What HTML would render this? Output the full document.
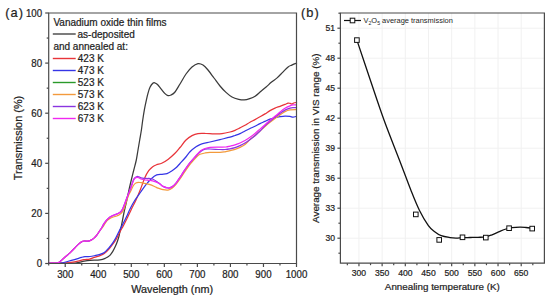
<!DOCTYPE html>
<html><head><meta charset="utf-8">
<style>
html,body{margin:0;padding:0;background:#fff;}
body{width:550px;height:300px;overflow:hidden;}
svg{display:block;font-family:"Liberation Sans",sans-serif;}
</style></head>
<body>
<svg width="550" height="300" viewBox="0 0 550 300">
<rect width="550" height="300" fill="#fff"/>
<g fill="none" stroke-width="1.25" stroke-linejoin="round" stroke-linecap="round">
<path stroke="#3a3a3a" d="M48.40 263.30 C50.33 263.28 55.57 263.25 60.00 263.20 C64.43 263.15 71.00 263.33 75.00 263.00 C79.00 262.67 81.50 261.63 84.00 261.20 C86.50 260.77 87.33 260.62 90.00 260.40 C92.67 260.18 97.45 260.25 100.00 259.90 C102.55 259.55 103.70 259.02 105.30 258.30 C106.90 257.58 108.35 256.77 109.60 255.60 C110.85 254.43 111.82 252.90 112.80 251.30 C113.78 249.70 114.70 247.77 115.50 246.00 C116.30 244.23 116.98 242.48 117.60 240.70 C118.22 238.92 118.75 237.08 119.20 235.30 C119.65 233.52 119.92 231.67 120.30 230.00 C120.68 228.33 120.88 228.22 121.50 225.30 C122.12 222.38 123.17 216.47 124.00 212.50 C124.83 208.53 125.63 205.42 126.50 201.50 C127.37 197.58 128.40 192.58 129.20 189.00 C130.00 185.42 130.53 183.17 131.30 180.00 C132.07 176.83 132.97 173.33 133.80 170.00 C134.63 166.67 135.60 163.33 136.30 160.00 C137.00 156.67 137.43 153.33 138.00 150.00 C138.57 146.67 139.13 143.33 139.70 140.00 C140.27 136.67 140.92 133.17 141.40 130.00 C141.88 126.83 142.10 124.38 142.60 121.00 C143.10 117.62 143.78 113.13 144.40 109.70 C145.02 106.27 145.68 103.20 146.30 100.40 C146.92 97.60 147.48 95.08 148.10 92.90 C148.72 90.72 149.22 88.90 150.00 87.30 C150.78 85.70 152.02 84.05 152.80 83.30 C153.58 82.55 153.92 82.60 154.70 82.80 C155.48 83.00 156.45 83.50 157.50 84.50 C158.55 85.50 159.75 87.28 161.00 88.80 C162.25 90.32 163.83 92.47 165.00 93.60 C166.17 94.73 167.00 95.37 168.00 95.60 C169.00 95.83 169.83 95.60 171.00 95.00 C172.17 94.40 173.50 93.83 175.00 92.00 C176.50 90.17 178.17 87.00 180.00 84.00 C181.83 81.00 184.00 76.83 186.00 74.00 C188.00 71.17 190.00 68.73 192.00 67.00 C194.00 65.27 196.17 63.93 198.00 63.60 C199.83 63.27 201.33 63.93 203.00 65.00 C204.67 66.07 206.17 67.83 208.00 70.00 C209.83 72.17 212.00 75.33 214.00 78.00 C216.00 80.67 218.00 83.60 220.00 86.00 C222.00 88.40 224.00 90.57 226.00 92.40 C228.00 94.23 229.88 95.85 232.00 97.00 C234.12 98.15 236.67 98.82 238.70 99.30 C240.73 99.78 242.37 100.02 244.20 99.90 C246.03 99.78 247.88 99.22 249.70 98.60 C251.52 97.98 253.28 97.37 255.10 96.20 C256.92 95.03 258.77 93.13 260.60 91.60 C262.43 90.07 264.27 88.58 266.10 87.00 C267.93 85.42 269.77 83.62 271.60 82.10 C273.43 80.58 275.27 79.52 277.10 77.90 C278.93 76.28 280.77 74.23 282.60 72.40 C284.43 70.57 286.57 68.12 288.10 66.90 C289.63 65.68 290.73 65.62 291.80 65.10 C292.87 64.58 293.72 64.12 294.50 63.80 C295.28 63.48 296.17 63.30 296.50 63.20"/>
<path stroke="#e8343a" d="M48.40 263.30 C51.00 263.27 60.23 263.25 64.00 263.10 C67.77 262.95 68.67 262.72 71.00 262.40 C73.33 262.08 75.87 261.65 78.00 261.20 C80.13 260.75 81.87 260.05 83.80 259.70 C85.73 259.35 87.85 259.50 89.60 259.10 C91.35 258.70 92.57 257.88 94.30 257.30 C96.03 256.72 98.33 256.22 100.00 255.60 C101.67 254.98 102.88 254.60 104.30 253.60 C105.72 252.60 107.08 251.17 108.50 249.60 C109.92 248.03 111.47 246.03 112.80 244.20 C114.13 242.37 115.25 240.77 116.50 238.60 C117.75 236.43 119.13 233.38 120.30 231.20 C121.47 229.02 122.30 227.78 123.50 225.50 C124.70 223.22 126.17 220.25 127.50 217.50 C128.83 214.75 130.08 211.92 131.50 209.00 C132.92 206.08 134.47 203.38 136.00 200.00 C137.53 196.62 139.25 192.37 140.70 188.70 C142.15 185.03 143.37 181.00 144.70 178.00 C146.03 175.00 147.37 172.58 148.70 170.70 C150.03 168.82 151.37 167.70 152.70 166.70 C154.03 165.70 155.20 165.27 156.70 164.70 C158.20 164.13 159.77 164.22 161.70 163.30 C163.63 162.38 166.08 160.87 168.30 159.20 C170.52 157.53 173.05 155.25 175.00 153.30 C176.95 151.35 178.17 149.72 180.00 147.50 C181.83 145.28 184.00 141.98 186.00 140.00 C188.00 138.02 190.00 136.67 192.00 135.60 C194.00 134.53 195.67 133.95 198.00 133.60 C200.33 133.25 203.33 133.45 206.00 133.50 C208.67 133.55 211.33 133.87 214.00 133.90 C216.67 133.93 219.33 134.02 222.00 133.70 C224.67 133.38 227.83 132.57 230.00 132.00 C232.17 131.43 233.33 130.98 235.00 130.30 C236.67 129.62 238.33 128.73 240.00 127.90 C241.67 127.07 243.33 126.25 245.00 125.30 C246.67 124.35 248.33 123.15 250.00 122.20 C251.67 121.25 253.33 120.50 255.00 119.60 C256.67 118.70 258.33 117.75 260.00 116.80 C261.67 115.85 263.33 114.93 265.00 113.90 C266.67 112.87 268.33 111.57 270.00 110.60 C271.67 109.63 273.33 108.82 275.00 108.10 C276.67 107.38 278.33 106.92 280.00 106.30 C281.67 105.68 283.67 104.93 285.00 104.40 C286.33 103.87 287.17 103.27 288.00 103.10 C288.83 102.93 289.33 103.25 290.00 103.40 C290.67 103.55 291.38 104.07 292.00 104.00 C292.62 103.93 292.95 103.27 293.70 103.00 C294.45 102.73 296.03 102.50 296.50 102.40"/>
<path stroke="#3535e6" d="M48.40 263.30 C50.42 263.25 57.32 263.30 60.50 263.00 C63.68 262.70 65.17 262.05 67.50 261.50 C69.83 260.95 72.17 260.38 74.50 259.70 C76.83 259.02 79.75 257.92 81.50 257.40 C83.25 256.88 83.58 256.75 85.00 256.60 C86.42 256.45 88.33 256.67 90.00 256.50 C91.67 256.33 93.33 255.95 95.00 255.60 C96.67 255.25 98.45 254.92 100.00 254.40 C101.55 253.88 102.88 253.52 104.30 252.50 C105.72 251.48 107.08 249.92 108.50 248.30 C109.92 246.68 111.55 244.60 112.80 242.80 C114.05 241.00 114.85 239.63 116.00 237.50 C117.15 235.37 118.62 232.12 119.70 230.00 C120.78 227.88 121.37 227.00 122.50 224.80 C123.63 222.60 125.25 219.43 126.50 216.80 C127.75 214.17 128.63 211.72 130.00 209.00 C131.37 206.28 132.92 203.33 134.70 200.50 C136.48 197.67 138.82 194.63 140.70 192.00 C142.58 189.37 144.23 186.92 146.00 184.70 C147.77 182.48 149.52 180.33 151.30 178.70 C153.08 177.07 154.92 175.63 156.70 174.90 C158.48 174.17 160.28 174.52 162.00 174.30 C163.72 174.08 165.38 174.15 167.00 173.60 C168.62 173.05 170.20 171.97 171.70 171.00 C173.20 170.03 174.62 169.05 176.00 167.80 C177.38 166.55 178.50 165.13 180.00 163.50 C181.50 161.87 183.33 159.97 185.00 158.00 C186.67 156.03 188.33 153.43 190.00 151.70 C191.67 149.97 193.33 148.78 195.00 147.60 C196.67 146.42 197.50 145.53 200.00 144.60 C202.50 143.67 206.67 142.83 210.00 142.00 C213.33 141.17 216.67 140.40 220.00 139.60 C223.33 138.80 227.50 137.88 230.00 137.20 C232.50 136.52 233.33 136.10 235.00 135.50 C236.67 134.90 238.33 134.35 240.00 133.60 C241.67 132.85 243.33 131.85 245.00 131.00 C246.67 130.15 248.33 129.30 250.00 128.50 C251.67 127.70 253.33 127.02 255.00 126.20 C256.67 125.38 258.33 124.40 260.00 123.60 C261.67 122.80 263.33 122.15 265.00 121.40 C266.67 120.65 268.33 119.72 270.00 119.10 C271.67 118.48 273.33 118.10 275.00 117.70 C276.67 117.30 278.33 116.97 280.00 116.70 C281.67 116.43 283.33 116.15 285.00 116.10 C286.67 116.05 288.67 116.22 290.00 116.40 C291.33 116.58 291.92 117.22 293.00 117.20 C294.08 117.18 295.92 116.45 296.50 116.30"/>
<path stroke="#f39a3c" d="M48.40 263.20 C49.67 263.18 54.35 263.20 56.00 263.10 C57.65 263.00 57.60 262.88 58.30 262.60 C59.00 262.32 59.55 261.90 60.20 261.40 C60.85 260.90 61.27 260.42 62.20 259.60 C63.13 258.78 64.60 257.53 65.80 256.50 C67.00 255.47 68.37 254.35 69.40 253.40 C70.43 252.45 71.15 251.67 72.00 250.80 C72.85 249.93 73.50 249.23 74.50 248.20 C75.50 247.17 76.83 245.65 78.00 244.60 C79.17 243.55 80.50 242.50 81.50 241.90 C82.50 241.30 82.92 241.13 84.00 241.00 C85.08 240.87 86.83 241.25 88.00 241.10 C89.17 240.95 90.00 240.60 91.00 240.10 C92.00 239.60 93.00 238.98 94.00 238.10 C95.00 237.22 96.00 236.08 97.00 234.80 C98.00 233.52 99.08 231.63 100.00 230.40 C100.92 229.17 101.72 228.47 102.50 227.40 C103.28 226.33 103.90 225.17 104.70 224.00 C105.50 222.83 106.42 221.33 107.30 220.40 C108.18 219.47 109.00 218.97 110.00 218.40 C111.00 217.83 112.18 217.40 113.30 217.00 C114.42 216.60 115.70 216.38 116.70 216.00 C117.70 215.62 118.42 215.32 119.30 214.70 C120.18 214.08 121.22 213.30 122.00 212.30 C122.78 211.30 123.28 210.45 124.00 208.70 C124.72 206.95 125.55 204.00 126.30 201.80 C127.05 199.60 127.80 197.22 128.50 195.50 C129.20 193.78 129.75 193.05 130.50 191.50 C131.25 189.95 132.25 187.52 133.00 186.20 C133.75 184.88 134.33 184.20 135.00 183.60 C135.67 183.00 136.17 182.78 137.00 182.60 C137.83 182.42 139.17 182.45 140.00 182.50 C140.83 182.55 141.17 182.75 142.00 182.90 C142.83 183.05 143.67 183.12 145.00 183.40 C146.33 183.68 148.33 184.05 150.00 184.60 C151.67 185.15 153.67 186.12 155.00 186.70 C156.33 187.28 156.67 187.60 158.00 188.10 C159.33 188.60 161.33 189.37 163.00 189.70 C164.67 190.03 166.50 190.33 168.00 190.10 C169.50 189.87 170.67 189.27 172.00 188.30 C173.33 187.33 174.67 185.85 176.00 184.30 C177.33 182.75 178.50 181.15 180.00 179.00 C181.50 176.85 183.33 173.83 185.00 171.40 C186.67 168.97 188.67 166.15 190.00 164.40 C191.33 162.65 191.83 162.22 193.00 160.90 C194.17 159.58 195.83 157.60 197.00 156.50 C198.17 155.40 198.67 154.88 200.00 154.30 C201.33 153.72 203.33 153.32 205.00 153.00 C206.67 152.68 207.50 152.50 210.00 152.40 C212.50 152.30 217.50 152.50 220.00 152.40 C222.50 152.30 223.33 152.08 225.00 151.80 C226.67 151.52 228.33 151.10 230.00 150.70 C231.67 150.30 233.33 149.95 235.00 149.40 C236.67 148.85 238.33 148.22 240.00 147.40 C241.67 146.58 243.33 145.82 245.00 144.50 C246.67 143.18 248.33 141.00 250.00 139.50 C251.67 138.00 253.33 136.92 255.00 135.50 C256.67 134.08 258.33 132.50 260.00 131.00 C261.67 129.50 263.33 127.95 265.00 126.50 C266.67 125.05 268.33 123.63 270.00 122.30 C271.67 120.97 273.33 119.72 275.00 118.50 C276.67 117.28 278.33 116.15 280.00 115.00 C281.67 113.85 283.33 112.45 285.00 111.60 C286.67 110.75 288.08 110.23 290.00 109.90 C291.92 109.57 295.42 109.65 296.50 109.60"/>
<path stroke="#8a35e0" d="M48.40 263.20 C49.67 263.18 54.35 263.20 56.00 263.10 C57.65 263.00 57.60 262.88 58.30 262.60 C59.00 262.32 59.55 261.90 60.20 261.40 C60.85 260.90 61.27 260.42 62.20 259.60 C63.13 258.78 64.60 257.53 65.80 256.50 C67.00 255.47 68.37 254.35 69.40 253.40 C70.43 252.45 71.15 251.67 72.00 250.80 C72.85 249.93 73.50 249.23 74.50 248.20 C75.50 247.17 76.83 245.65 78.00 244.60 C79.17 243.55 80.50 242.50 81.50 241.90 C82.50 241.30 82.92 241.13 84.00 241.00 C85.08 240.87 86.83 241.25 88.00 241.10 C89.17 240.95 90.00 240.60 91.00 240.10 C92.00 239.60 93.00 238.98 94.00 238.10 C95.00 237.22 96.00 236.08 97.00 234.80 C98.00 233.52 99.17 231.67 100.00 230.40 C100.83 229.13 101.33 228.33 102.00 227.20 C102.67 226.07 103.28 224.72 104.00 223.60 C104.72 222.48 105.30 221.60 106.30 220.50 C107.30 219.40 108.72 217.92 110.00 217.00 C111.28 216.08 112.67 215.58 114.00 215.00 C115.33 214.42 116.83 214.08 118.00 213.50 C119.17 212.92 120.17 212.42 121.00 211.50 C121.83 210.58 122.33 209.42 123.00 208.00 C123.67 206.58 124.33 204.75 125.00 203.00 C125.67 201.25 126.33 199.28 127.00 197.50 C127.67 195.72 128.25 194.30 129.00 192.30 C129.75 190.30 130.75 187.58 131.50 185.50 C132.25 183.42 132.92 181.12 133.50 179.80 C134.08 178.48 134.42 178.15 135.00 177.60 C135.58 177.05 136.33 176.62 137.00 176.50 C137.67 176.38 138.33 176.68 139.00 176.90 C139.67 177.12 140.17 177.55 141.00 177.80 C141.83 178.05 143.00 178.28 144.00 178.40 C145.00 178.52 146.00 178.48 147.00 178.50 C148.00 178.52 149.00 178.37 150.00 178.50 C151.00 178.63 151.83 178.77 153.00 179.30 C154.17 179.83 155.83 180.92 157.00 181.70 C158.17 182.48 159.00 183.22 160.00 184.00 C161.00 184.78 161.67 185.73 163.00 186.40 C164.33 187.07 166.50 187.92 168.00 188.00 C169.50 188.08 170.67 187.72 172.00 186.90 C173.33 186.08 174.67 184.70 176.00 183.10 C177.33 181.50 178.50 179.53 180.00 177.30 C181.50 175.07 183.33 172.13 185.00 169.70 C186.67 167.27 188.67 164.42 190.00 162.70 C191.33 160.98 191.83 160.68 193.00 159.40 C194.17 158.12 195.67 156.37 197.00 155.00 C198.33 153.63 199.67 152.17 201.00 151.20 C202.33 150.23 203.50 149.57 205.00 149.20 C206.50 148.83 207.50 148.95 210.00 149.00 C212.50 149.05 217.50 149.42 220.00 149.50 C222.50 149.58 223.33 149.60 225.00 149.50 C226.67 149.40 228.33 149.20 230.00 148.90 C231.67 148.60 233.33 148.25 235.00 147.70 C236.67 147.15 238.33 146.38 240.00 145.60 C241.67 144.82 243.33 144.00 245.00 143.00 C246.67 142.00 248.33 140.80 250.00 139.60 C251.67 138.40 253.33 137.23 255.00 135.80 C256.67 134.37 258.33 132.65 260.00 131.00 C261.67 129.35 263.33 127.52 265.00 125.90 C266.67 124.28 268.33 122.78 270.00 121.30 C271.67 119.82 273.33 118.32 275.00 117.00 C276.67 115.68 278.33 114.55 280.00 113.40 C281.67 112.25 283.33 110.97 285.00 110.10 C286.67 109.23 288.67 108.60 290.00 108.20 C291.33 107.80 291.92 107.78 293.00 107.70 C294.08 107.62 295.92 107.70 296.50 107.70"/>
<path stroke="#f028f0" d="M48.40 263.20 C49.67 263.18 54.35 263.20 56.00 263.10 C57.65 263.00 57.60 262.88 58.30 262.60 C59.00 262.32 59.55 261.90 60.20 261.40 C60.85 260.90 61.27 260.42 62.20 259.60 C63.13 258.78 64.60 257.53 65.80 256.50 C67.00 255.47 68.37 254.35 69.40 253.40 C70.43 252.45 71.15 251.67 72.00 250.80 C72.85 249.93 73.50 249.23 74.50 248.20 C75.50 247.17 76.83 245.65 78.00 244.60 C79.17 243.55 80.50 242.50 81.50 241.90 C82.50 241.30 82.92 241.13 84.00 241.00 C85.08 240.87 86.83 241.25 88.00 241.10 C89.17 240.95 90.00 240.60 91.00 240.10 C92.00 239.60 93.00 238.98 94.00 238.10 C95.00 237.22 96.00 236.08 97.00 234.80 C98.00 233.52 99.17 231.67 100.00 230.40 C100.83 229.13 101.33 228.33 102.00 227.20 C102.67 226.07 103.28 224.72 104.00 223.60 C104.72 222.48 105.30 221.60 106.30 220.50 C107.30 219.40 108.72 217.92 110.00 217.00 C111.28 216.08 112.67 215.58 114.00 215.00 C115.33 214.42 116.83 214.08 118.00 213.50 C119.17 212.92 120.17 212.42 121.00 211.50 C121.83 210.58 122.33 209.42 123.00 208.00 C123.67 206.58 124.33 204.75 125.00 203.00 C125.67 201.25 126.33 199.25 127.00 197.50 C127.67 195.75 128.25 194.42 129.00 192.50 C129.75 190.58 130.75 188.00 131.50 186.00 C132.25 184.00 132.92 181.78 133.50 180.50 C134.08 179.22 134.42 178.83 135.00 178.30 C135.58 177.77 136.33 177.38 137.00 177.30 C137.67 177.22 138.33 177.52 139.00 177.80 C139.67 178.08 140.00 178.63 141.00 179.00 C142.00 179.37 143.50 179.77 145.00 180.00 C146.50 180.23 148.33 180.12 150.00 180.40 C151.67 180.68 153.33 181.10 155.00 181.70 C156.67 182.30 158.67 183.22 160.00 184.00 C161.33 184.78 161.67 185.73 163.00 186.40 C164.33 187.07 166.50 187.92 168.00 188.00 C169.50 188.08 170.67 187.72 172.00 186.90 C173.33 186.08 174.67 184.70 176.00 183.10 C177.33 181.50 178.50 179.53 180.00 177.30 C181.50 175.07 183.33 172.13 185.00 169.70 C186.67 167.27 188.67 164.45 190.00 162.70 C191.33 160.95 191.83 160.57 193.00 159.20 C194.17 157.83 195.67 155.95 197.00 154.50 C198.33 153.05 199.67 151.50 201.00 150.50 C202.33 149.50 203.50 149.02 205.00 148.50 C206.50 147.98 207.50 147.62 210.00 147.40 C212.50 147.18 217.33 147.27 220.00 147.20 C222.67 147.13 224.33 147.18 226.00 147.00 C227.67 146.82 228.50 146.47 230.00 146.10 C231.50 145.73 233.33 145.32 235.00 144.80 C236.67 144.28 238.33 143.72 240.00 143.00 C241.67 142.28 243.33 141.45 245.00 140.50 C246.67 139.55 248.33 138.47 250.00 137.30 C251.67 136.13 253.33 134.87 255.00 133.50 C256.67 132.13 258.33 130.57 260.00 129.10 C261.67 127.63 263.33 126.18 265.00 124.70 C266.67 123.22 268.17 121.72 270.00 120.20 C271.83 118.68 274.33 116.97 276.00 115.60 C277.67 114.23 278.50 113.23 280.00 112.00 C281.50 110.77 283.33 109.23 285.00 108.20 C286.67 107.17 288.67 106.35 290.00 105.80 C291.33 105.25 291.92 105.07 293.00 104.90 C294.08 104.73 295.92 104.82 296.50 104.80"/>
</g>
<g stroke="#4a4a4a" stroke-width="1.20" fill="none">
<path d="M48.70 13.00 H296.50 V263.50 H48.70 Z"/>
<path d="M45.20 263.50 H48.70"/>
<path d="M46.70 238.45 H48.70"/>
<path d="M45.20 213.40 H48.70"/>
<path d="M46.70 188.35 H48.70"/>
<path d="M45.20 163.30 H48.70"/>
<path d="M46.70 138.25 H48.70"/>
<path d="M45.20 113.20 H48.70"/>
<path d="M46.70 88.15 H48.70"/>
<path d="M45.20 63.10 H48.70"/>
<path d="M46.70 38.05 H48.70"/>
<path d="M45.20 13.00 H48.70"/>
<path d="M48.70 263.50 V265.50"/>
<path d="M65.22 263.50 V267.00"/>
<path d="M81.74 263.50 V265.50"/>
<path d="M98.26 263.50 V267.00"/>
<path d="M114.78 263.50 V265.50"/>
<path d="M131.30 263.50 V267.00"/>
<path d="M147.82 263.50 V265.50"/>
<path d="M164.34 263.50 V267.00"/>
<path d="M180.86 263.50 V265.50"/>
<path d="M197.38 263.50 V267.00"/>
<path d="M213.90 263.50 V265.50"/>
<path d="M230.42 263.50 V267.00"/>
<path d="M246.94 263.50 V265.50"/>
<path d="M263.46 263.50 V267.00"/>
<path d="M279.98 263.50 V265.50"/>
<path d="M296.50 263.50 V267.00"/>
</g>
<text transform="translate(42.10 267.00) scale(0.970 1)" font-size="10.00" text-anchor="end" fill="#1e1e1e" stroke="#1e1e1e" stroke-width="0.22">0</text>
<text transform="translate(42.10 216.90) scale(0.970 1)" font-size="10.00" text-anchor="end" fill="#1e1e1e" stroke="#1e1e1e" stroke-width="0.22">20</text>
<text transform="translate(42.10 166.80) scale(0.970 1)" font-size="10.00" text-anchor="end" fill="#1e1e1e" stroke="#1e1e1e" stroke-width="0.22">40</text>
<text transform="translate(42.10 116.70) scale(0.970 1)" font-size="10.00" text-anchor="end" fill="#1e1e1e" stroke="#1e1e1e" stroke-width="0.22">60</text>
<text transform="translate(42.10 66.60) scale(0.970 1)" font-size="10.00" text-anchor="end" fill="#1e1e1e" stroke="#1e1e1e" stroke-width="0.22">80</text>
<text transform="translate(42.10 16.50) scale(0.970 1)" font-size="10.00" text-anchor="end" fill="#1e1e1e" stroke="#1e1e1e" stroke-width="0.22">100</text>
<text transform="translate(65.22 277.80) scale(0.970 1)" font-size="10.00" text-anchor="middle" fill="#1e1e1e" stroke="#1e1e1e" stroke-width="0.22">300</text>
<text transform="translate(98.26 277.80) scale(0.970 1)" font-size="10.00" text-anchor="middle" fill="#1e1e1e" stroke="#1e1e1e" stroke-width="0.22">400</text>
<text transform="translate(131.30 277.80) scale(0.970 1)" font-size="10.00" text-anchor="middle" fill="#1e1e1e" stroke="#1e1e1e" stroke-width="0.22">500</text>
<text transform="translate(164.34 277.80) scale(0.970 1)" font-size="10.00" text-anchor="middle" fill="#1e1e1e" stroke="#1e1e1e" stroke-width="0.22">600</text>
<text transform="translate(197.38 277.80) scale(0.970 1)" font-size="10.00" text-anchor="middle" fill="#1e1e1e" stroke="#1e1e1e" stroke-width="0.22">700</text>
<text transform="translate(230.42 277.80) scale(0.970 1)" font-size="10.00" text-anchor="middle" fill="#1e1e1e" stroke="#1e1e1e" stroke-width="0.22">800</text>
<text transform="translate(263.46 277.80) scale(0.970 1)" font-size="10.00" text-anchor="middle" fill="#1e1e1e" stroke="#1e1e1e" stroke-width="0.22">900</text>
<text transform="translate(296.50 277.80) scale(0.970 1)" font-size="10.00" text-anchor="middle" fill="#1e1e1e" stroke="#1e1e1e" stroke-width="0.22">1000</text>
<text transform="translate(172.10 292.70) scale(1.050 1)" font-size="10.30" text-anchor="middle" fill="#1e1e1e" stroke="#1e1e1e" stroke-width="0.22">Wavelength (nm)</text>
<text transform="translate(22.00 138.00) rotate(-90) scale(1.050 1)" font-size="10.40" text-anchor="middle" fill="#1e1e1e" stroke="#1e1e1e" stroke-width="0.22">Transmission (%)</text>
<text transform="translate(5.20 16.50) scale(1.000 1)" font-size="12.80" text-anchor="start" fill="#1e1e1e" stroke="#1e1e1e" stroke-width="0.22" letter-spacing="1.1">(a)</text>
<text transform="translate(53.40 25.90) scale(1.000 1)" font-size="10.00" text-anchor="start" fill="#1e1e1e" stroke="#1e1e1e" stroke-width="0.22">Vanadium oxide thin films</text>
<text transform="translate(77.50 37.80) scale(1.000 1)" font-size="10.00" text-anchor="start" fill="#1e1e1e" stroke="#1e1e1e" stroke-width="0.22">as-deposited</text>
<text transform="translate(53.40 49.80) scale(1.000 1)" font-size="10.00" text-anchor="start" fill="#1e1e1e" stroke="#1e1e1e" stroke-width="0.22">and annealed at:</text>
<text transform="translate(77.80 61.90) scale(1.000 1)" font-size="10.00" text-anchor="start" fill="#1e1e1e" stroke="#1e1e1e" stroke-width="0.22">423 K</text>
<text transform="translate(77.80 73.90) scale(1.000 1)" font-size="10.00" text-anchor="start" fill="#1e1e1e" stroke="#1e1e1e" stroke-width="0.22">473 K</text>
<text transform="translate(77.80 85.90) scale(1.000 1)" font-size="10.00" text-anchor="start" fill="#1e1e1e" stroke="#1e1e1e" stroke-width="0.22">523 K</text>
<text transform="translate(77.80 97.90) scale(1.000 1)" font-size="10.00" text-anchor="start" fill="#1e1e1e" stroke="#1e1e1e" stroke-width="0.22">573 K</text>
<text transform="translate(77.80 109.90) scale(1.000 1)" font-size="10.00" text-anchor="start" fill="#1e1e1e" stroke="#1e1e1e" stroke-width="0.22">623 K</text>
<text transform="translate(77.80 121.90) scale(1.000 1)" font-size="10.00" text-anchor="start" fill="#1e1e1e" stroke="#1e1e1e" stroke-width="0.22">673 K</text>
<g stroke-width="1.4">
<path stroke="#444444" d="M52.8 34.00 H75.7"/>
<path stroke="#e8343a" d="M52.8 58.50 H75.7"/>
<path stroke="#3535e6" d="M52.8 70.50 H75.7"/>
<path stroke="#2a9a2a" d="M52.8 82.50 H75.7"/>
<path stroke="#f39a3c" d="M52.8 94.50 H75.7"/>
<path stroke="#8a35e0" d="M52.8 106.50 H75.7"/>
<path stroke="#f028f0" d="M52.8 118.50 H75.7"/>
</g>
<g stroke="#f1f1f1" stroke-width="1">
<path d="M358.95 13.00 V263.20"/>
<path d="M382.13 13.00 V263.20"/>
<path d="M405.31 13.00 V263.20"/>
<path d="M428.49 13.00 V263.20"/>
<path d="M451.67 13.00 V263.20"/>
<path d="M474.85 13.00 V263.20"/>
<path d="M498.04 13.00 V263.20"/>
<path d="M521.22 13.00 V263.20"/>
<path d="M340.40 238.20 H544.40"/>
<path d="M340.40 208.20 H544.40"/>
<path d="M340.40 178.20 H544.40"/>
<path d="M340.40 148.20 H544.40"/>
<path d="M340.40 118.20 H544.40"/>
<path d="M340.40 88.20 H544.40"/>
<path d="M340.40 58.20 H544.40"/>
<path d="M340.40 28.20 H544.40"/>
</g>
<path fill="none" stroke="#111" stroke-width="1.3" d="M356.90 40.10 C359.13 46.75 365.78 66.68 370.30 80.00 C374.82 93.32 379.15 106.67 384.00 120.00 C388.85 133.33 394.87 148.17 399.40 160.00 C403.93 171.83 407.85 182.58 411.20 191.00 C414.55 199.42 416.67 204.78 419.50 210.50 C422.33 216.22 425.67 221.75 428.20 225.30 C430.73 228.85 432.53 230.07 434.70 231.80 C436.87 233.53 438.65 234.73 441.20 235.70 C443.75 236.67 447.53 237.20 450.00 237.60 C452.47 238.00 453.90 238.08 456.00 238.10 C458.10 238.12 460.27 237.80 462.60 237.70 C464.93 237.60 467.43 237.57 470.00 237.50 C472.57 237.43 475.35 237.42 478.00 237.30 C480.65 237.18 483.57 237.22 485.90 236.80 C488.23 236.38 489.65 235.72 492.00 234.80 C494.35 233.88 497.67 232.27 500.00 231.30 C502.33 230.33 504.00 229.62 506.00 229.00 C508.00 228.38 509.67 227.90 512.00 227.60 C514.33 227.30 517.67 227.22 520.00 227.20 C522.33 227.18 523.97 227.35 526.00 227.50 C528.03 227.65 531.17 228.00 532.20 228.10"/>
<g fill="#fff" stroke="#111" stroke-width="1">
<rect x="354.60" y="37.80" width="4.6" height="4.6"/>
<rect x="413.50" y="212.10" width="4.6" height="4.6"/>
<rect x="436.90" y="237.60" width="4.6" height="4.6"/>
<rect x="460.20" y="235.00" width="4.6" height="4.6"/>
<rect x="483.50" y="235.30" width="4.6" height="4.6"/>
<rect x="506.80" y="225.90" width="4.6" height="4.6"/>
<rect x="529.90" y="226.30" width="4.6" height="4.6"/>
</g>
<g stroke="#4a4a4a" stroke-width="1.20" fill="none">
<path d="M340.40 13.00 H544.40 V263.20 H340.40 Z"/>
<path d="M347.35 263.20 V265.20"/>
<path d="M358.95 263.20 V266.20"/>
<path d="M370.54 263.20 V265.20"/>
<path d="M382.13 263.20 V266.20"/>
<path d="M393.72 263.20 V265.20"/>
<path d="M405.31 263.20 V266.20"/>
<path d="M416.90 263.20 V265.20"/>
<path d="M428.49 263.20 V266.20"/>
<path d="M440.08 263.20 V265.20"/>
<path d="M451.67 263.20 V266.20"/>
<path d="M463.26 263.20 V265.20"/>
<path d="M474.85 263.20 V266.20"/>
<path d="M486.45 263.20 V265.20"/>
<path d="M498.04 263.20 V266.20"/>
<path d="M509.63 263.20 V265.20"/>
<path d="M521.22 263.20 V266.20"/>
<path d="M532.81 263.20 V265.20"/>
<path d="M338.40 253.20 H340.40"/>
<path d="M337.40 238.20 H340.40"/>
<path d="M338.40 223.20 H340.40"/>
<path d="M337.40 208.20 H340.40"/>
<path d="M338.40 193.20 H340.40"/>
<path d="M337.40 178.20 H340.40"/>
<path d="M338.40 163.20 H340.40"/>
<path d="M337.40 148.20 H340.40"/>
<path d="M338.40 133.20 H340.40"/>
<path d="M337.40 118.20 H340.40"/>
<path d="M338.40 103.20 H340.40"/>
<path d="M337.40 88.20 H340.40"/>
<path d="M338.40 73.20 H340.40"/>
<path d="M337.40 58.20 H340.40"/>
<path d="M338.40 43.20 H340.40"/>
<path d="M337.40 28.20 H340.40"/>
<path d="M338.40 13.20 H340.40"/>
</g>
<text transform="translate(335.00 241.30) scale(1.000 1)" font-size="8.60" text-anchor="end" fill="#1e1e1e" stroke="#1e1e1e" stroke-width="0.22">30</text>
<text transform="translate(335.00 211.30) scale(1.000 1)" font-size="8.60" text-anchor="end" fill="#1e1e1e" stroke="#1e1e1e" stroke-width="0.22">33</text>
<text transform="translate(335.00 181.30) scale(1.000 1)" font-size="8.60" text-anchor="end" fill="#1e1e1e" stroke="#1e1e1e" stroke-width="0.22">36</text>
<text transform="translate(335.00 151.30) scale(1.000 1)" font-size="8.60" text-anchor="end" fill="#1e1e1e" stroke="#1e1e1e" stroke-width="0.22">39</text>
<text transform="translate(335.00 121.30) scale(1.000 1)" font-size="8.60" text-anchor="end" fill="#1e1e1e" stroke="#1e1e1e" stroke-width="0.22">42</text>
<text transform="translate(335.00 91.30) scale(1.000 1)" font-size="8.60" text-anchor="end" fill="#1e1e1e" stroke="#1e1e1e" stroke-width="0.22">45</text>
<text transform="translate(335.00 61.30) scale(1.000 1)" font-size="8.60" text-anchor="end" fill="#1e1e1e" stroke="#1e1e1e" stroke-width="0.22">48</text>
<text transform="translate(335.00 31.30) scale(1.000 1)" font-size="8.60" text-anchor="end" fill="#1e1e1e" stroke="#1e1e1e" stroke-width="0.22">51</text>
<text transform="translate(358.95 275.60) scale(1.000 1)" font-size="8.60" text-anchor="middle" fill="#1e1e1e" stroke="#1e1e1e" stroke-width="0.22">300</text>
<text transform="translate(382.13 275.60) scale(1.000 1)" font-size="8.60" text-anchor="middle" fill="#1e1e1e" stroke="#1e1e1e" stroke-width="0.22">350</text>
<text transform="translate(405.31 275.60) scale(1.000 1)" font-size="8.60" text-anchor="middle" fill="#1e1e1e" stroke="#1e1e1e" stroke-width="0.22">400</text>
<text transform="translate(428.49 275.60) scale(1.000 1)" font-size="8.60" text-anchor="middle" fill="#1e1e1e" stroke="#1e1e1e" stroke-width="0.22">450</text>
<text transform="translate(451.67 275.60) scale(1.000 1)" font-size="8.60" text-anchor="middle" fill="#1e1e1e" stroke="#1e1e1e" stroke-width="0.22">500</text>
<text transform="translate(474.85 275.60) scale(1.000 1)" font-size="8.60" text-anchor="middle" fill="#1e1e1e" stroke="#1e1e1e" stroke-width="0.22">550</text>
<text transform="translate(498.04 275.60) scale(1.000 1)" font-size="8.60" text-anchor="middle" fill="#1e1e1e" stroke="#1e1e1e" stroke-width="0.22">600</text>
<text transform="translate(521.22 275.60) scale(1.000 1)" font-size="8.60" text-anchor="middle" fill="#1e1e1e" stroke="#1e1e1e" stroke-width="0.22">650</text>
<text transform="translate(442.30 289.70) scale(1.000 1)" font-size="9.80" text-anchor="middle" fill="#1e1e1e" stroke="#1e1e1e" stroke-width="0.22">Annealing temperature (K)</text>
<text transform="translate(319.40 138.20) rotate(-90) scale(1.000 1)" font-size="9.85" text-anchor="middle" fill="#1e1e1e" stroke="#1e1e1e" stroke-width="0.22">Average transmission in VIS range (%)</text>
<text transform="translate(301.00 16.80) scale(1.000 1)" font-size="12.80" text-anchor="start" fill="#1e1e1e" stroke="#1e1e1e" stroke-width="0.22" letter-spacing="1.1">(b)</text>
<path stroke="#111" stroke-width="1.2" d="M344 20.5 H361"/>
<rect x="350.2" y="18.2" width="4.6" height="4.6" fill="#fff" stroke="#111" stroke-width="1"/>
<text x="363.5" y="22.9" font-size="7.45" fill="#1e1e1e">V<tspan font-size="5.2" dy="1.6">2</tspan><tspan dy="-1.6">O</tspan><tspan font-size="5.2" dy="1.6">5</tspan><tspan dy="-1.6"> average transmission</tspan></text>
</svg>
</body></html>
